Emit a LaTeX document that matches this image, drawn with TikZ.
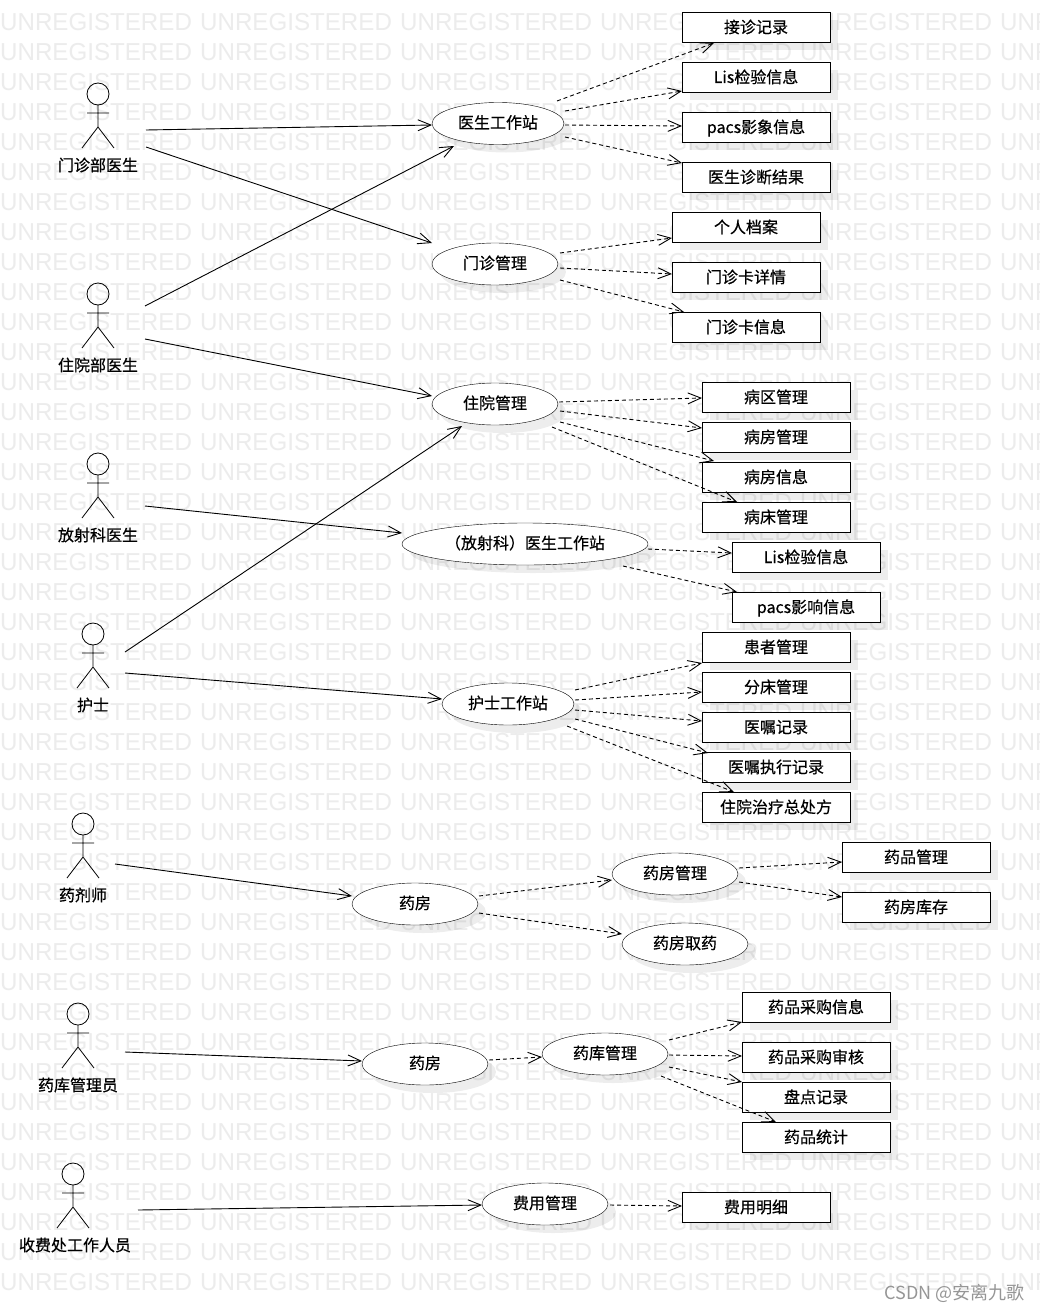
\documentclass[tikz,border=0pt]{standalone}
\usepackage{fontspec}
\setmainfont{Noto Sans CJK SC}[RawFeature={embolden=0.5}]
\newfontfamily\wmfont{Liberation Sans}
\newfontfamily\markfont{Noto Sans CJK SC}
\usetikzlibrary{shapes.geometric,arrows.meta,shadows}
\definecolor{wmgray}{HTML}{ECECEC}
\definecolor{markgray}{HTML}{969696}
\tikzset{
  x=1pt, y=-1pt,
  every node/.style={font=\fontsize{16}{18}\selectfont},
  softshadow/.style={drop shadow={shadow xshift=8pt,shadow yshift=-8pt,fill=black,opacity=0.07}},
  usecase/.style={ellipse,draw,fill=white,inner sep=0pt,minimum height=42pt,text height=13pt,text depth=3pt,softshadow},
  databox/.style={rectangle,draw,fill=white,inner sep=0pt,minimum width=148pt,minimum height=30pt,text height=15pt,text depth=3pt,softshadow},
  actorname/.style={inner sep=0pt},
  assoc/.style={-{Straight Barb[length=13pt,width=11pt]},line width=0.9pt},
  depend/.style={assoc,dash pattern=on 4pt off 3pt},
  actorfig/.pic={
    \draw[line width=0.8pt] (0,0) circle (11pt);
    \draw[line width=0.8pt] (0,11) -- (0,33) (-11,19) -- (11,19) (-16,54) -- (0,33) -- (16,54);
  }
}
\begin{document}
\begin{tikzpicture}
\useasboundingbox (0,0) rectangle (1040,1311);
\fill[white] (0,0) rectangle (1040,1311);
\begin{scope}
\clip (0,0) rectangle (1040,1311);
\foreach \r in {0,...,42}
  \foreach \c in {0,...,5}
    \node[anchor=west,inner sep=0pt,text=wmgray,font=\wmfont\fontsize{24.5}{26}\selectfont,xscale=0.985] (wm\r-\c) at (200*\c,22+30*\r) {UNREGISTERED};
\end{scope}

% actors
\pic at (98,94) {actorfig};
\pic at (98,294) {actorfig};
\pic at (98,464) {actorfig};
\pic at (93,634) {actorfig};
\pic at (83,824) {actorfig};
\pic at (78,1014) {actorfig};
\pic at (73,1174) {actorfig};
\node[actorname] (mzys) at (98,165) {门诊部医生};
\node[actorname] (zyys) at (98,365) {住院部医生};
\node[actorname] (fsys) at (98,535) {放射科医生};
\node[actorname] (hs) at (93,705) {护士};
\node[actorname] (yjs) at (83,895) {药剂师};
\node[actorname] (ykgl) at (78,1085) {药库管理员};
\node[actorname] (sfry) at (75,1245) {收费处工作人员};

% use cases
\node[usecase,minimum width=132pt] (yszz) at (498,123.5) {医生工作站};
\node[usecase,minimum width=126pt] (mzgl) at (495,264) {门诊管理};
\node[usecase,minimum width=126pt] (zygl) at (495,404) {住院管理};
\node[usecase,minimum width=246pt] (fszz) at (525,544) {（放射科）医生工作站};
\node[usecase,minimum width=132pt] (hszz) at (508,704) {护士工作站};
\node[usecase,minimum width=126pt] (yf) at (415,904) {药房};
\node[usecase,minimum width=126pt] (yfgl) at (675,874) {药房管理};
\node[usecase,minimum width=126pt] (yfqy) at (685,944) {药房取药};
\node[usecase,minimum width=126pt] (yfb) at (425,1064) {药房};
\node[usecase,minimum width=126pt] (ykzz) at (605,1054) {药库管理};
\node[usecase,minimum width=126pt] (fygl) at (545,1204) {费用管理};

% data boxes
\node[databox] (jzjl) at (756,27) {接诊记录};
\node[databox] (lisa) at (756,77) {Lis检验信息};
\node[databox] (pacs) at (756,127) {pacs影象信息};
\node[databox] (zdjg) at (756,177) {医生诊断结果};
\node[databox] (grda) at (746,227) {个人档案};
\node[databox] (kxq) at (746,277) {门诊卡详情};
\node[databox] (kxx) at (746,327) {门诊卡信息};
\node[databox] (bqgl) at (776,397) {病区管理};
\node[databox] (bfgl) at (776,437) {病房管理};
\node[databox] (bfxx) at (776,477) {病房信息};
\node[databox] (bcgl) at (776,517) {病床管理};
\node[databox] (lisb) at (806,557) {Lis检验信息};
\node[databox] (pacsb) at (806,607) {pacs影响信息};
\node[databox] (hzgl) at (776,647) {患者管理};
\node[databox] (fcgl) at (776,687) {分床管理};
\node[databox] (yzjl) at (776,727) {医嘱记录};
\node[databox] (yzzx) at (776,767) {医嘱执行记录};
\node[databox] (zcf) at (776,807) {住院治疗总处方};
\node[databox] (ypgl) at (916,857) {药品管理};
\node[databox] (yfkc) at (916,907) {药房库存};
\node[databox] (cgxx) at (816,1007) {药品采购信息};
\node[databox] (cgsh) at (816,1057) {药品采购审核};
\node[databox] (pdjl) at (816,1097) {盘点记录};
\node[databox] (yptj) at (816,1137) {药品统计};
\node[databox] (fymx) at (756,1207) {费用明细};

% actor links
\draw[assoc] ([shift={(48,-35)}]mzys.center) -- ([shift={(-66,1.5)}]yszz.center);
\draw[assoc] ([shift={(48,-18)}]mzys.center) -- ([shift={(-63,-21)}]mzgl.center);
\draw[assoc] ([shift={(47,-59)}]zyys.center) -- ([shift={(-44,22.5)}]yszz.center);
\draw[assoc] ([shift={(47,-26)}]zyys.center) -- ([shift={(-63,-8)}]zygl.center);
\draw[assoc] ([shift={(47,-29)}]fsys.center) -- ([shift={(-123,-11)}]fszz.center);
\draw[assoc] ([shift={(32,-53)}]hs.center) -- ([shift={(-33,22)}]zygl.center);
\draw[assoc] ([shift={(32,-32)}]hs.center) -- ([shift={(-66,-5)}]hszz.center);
\draw[assoc] ([shift={(32,-31)}]yjs.center) -- ([shift={(-63,-8)}]yf.center);
\draw[assoc] ([shift={(47,-33)}]ykgl.center) -- ([shift={(-63,-3)}]yfb.center);
\draw[assoc] ([shift={(63,-35)}]sfry.center) -- ([shift={(-63,1)}]fygl.center);

% dashed links
\draw[depend] ([shift={(59,-22.5)}]yszz.center) -- ([shift={(-42,16)}]jzjl.center);
\draw[depend] ([shift={(67,-12.5)}]yszz.center) -- ([shift={(-74,14)}]lisa.center);
\draw[depend] ([shift={(67,1.5)}]yszz.center) -- ([shift={(-74,-1)}]pacs.center);
\draw[depend] ([shift={(67,13.5)}]yszz.center) -- ([shift={(-74,-14)}]zdjg.center);
\draw[depend] ([shift={(65,-11)}]mzgl.center) -- ([shift={(-74,11)}]grda.center);
\draw[depend] ([shift={(65,4)}]mzgl.center) -- ([shift={(-74,-3)}]kxq.center);
\draw[depend] ([shift={(65,16)}]mzgl.center) -- ([shift={(-62,-15)}]kxx.center);
\draw[depend] ([shift={(64,-2)}]zygl.center) -- ([shift={(-74,1)}]bqgl.center);
\draw[depend] ([shift={(65,7)}]zygl.center) -- ([shift={(-74,-9)}]bfgl.center);
\draw[depend] ([shift={(65,18)}]zygl.center) -- ([shift={(-62,-16)}]bfxx.center);
\draw[depend] ([shift={(57,23)}]zygl.center) -- ([shift={(-39,-15)}]bcgl.center);
\draw[depend] ([shift={(123,5)}]fszz.center) -- ([shift={(-74,-4)}]lisb.center);
\draw[depend] ([shift={(98,22)}]fszz.center) -- ([shift={(-69,-15)}]pacsb.center);
\draw[depend] ([shift={(67,-14)}]hszz.center) -- ([shift={(-74,16)}]hzgl.center);
\draw[depend] ([shift={(67,-4)}]hszz.center) -- ([shift={(-74,5)}]fcgl.center);
\draw[depend] ([shift={(67,6)}]hszz.center) -- ([shift={(-74,-6)}]yzjl.center);
\draw[depend] ([shift={(67,15)}]hszz.center) -- ([shift={(-68,-14)}]yzzx.center);
\draw[depend] ([shift={(59,22)}]hszz.center) -- ([shift={(-42,-15)}]zcf.center);
\draw[depend] ([shift={(64,-8)}]yf.center) -- ([shift={(-63,6)}]yfgl.center);
\draw[depend] ([shift={(64,9)}]yf.center) -- ([shift={(-63,-10)}]yfqy.center);
\draw[depend] ([shift={(64,-6)}]yfgl.center) -- ([shift={(-74,5)}]ypgl.center);
\draw[depend] ([shift={(64,8)}]yfgl.center) -- ([shift={(-74,-10)}]yfkc.center);
\draw[depend] ([shift={(64,-4)}]yfb.center) -- ([shift={(-63,3)}]ykzz.center);
\draw[depend] ([shift={(64,-14)}]ykzz.center) -- ([shift={(-74,15)}]cgxx.center);
\draw[depend] ([shift={(64,1)}]ykzz.center) -- ([shift={(-74,-1)}]cgsh.center);
\draw[depend] ([shift={(64,13)}]ykzz.center) -- ([shift={(-74,-15)}]pdjl.center);
\draw[depend] ([shift={(56,22)}]ykzz.center) -- ([shift={(-40,-15)}]yptj.center);
\draw[depend] ([shift={(65,1)}]fygl.center) -- ([shift={(-74,-1)}]fymx.center);

\node[anchor=east,inner sep=0pt,text=markgray,font=\markfont\fontsize{18}{20}\selectfont] (csdn) at (1025,1293) {CSDN @安离九歌};
\end{tikzpicture}
\end{document}
